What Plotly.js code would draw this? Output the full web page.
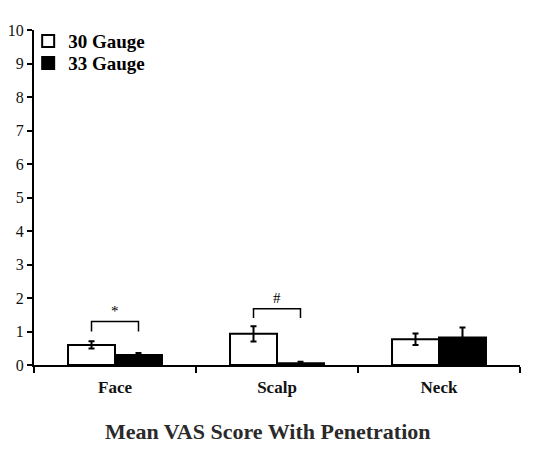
<!DOCTYPE html>
<html>
<head>
<meta charset="utf-8">
<script src="https://cdn.plot.ly/plotly-3.0.1.min.js"></script>
<style>html,body{margin:0;padding:0;background:#fff;}#chart{width:552px;height:468px;}</style>
</head>
<body>
<div id="chart"></div>
<script>
// Data
var categories = ["Face", "Scalp", "Neck"];
var gauge30 = [0.60, 0.93, 0.77];
var gauge30Err = [0.11, 0.23, 0.17];
var gauge33 = [0.30, 0.05, 0.82];
var gauge33Err = [0.06, 0.05, 0.30];
var sigLabels = ["*", "#", ""];
var bracketTop = [1.30, 1.68, null];
var bracketLeg = [1.00, 1.40, null];
var seriesNames = ["30 Gauge", "33 Gauge"];
var yTicks = [0, 1, 2, 3, 4, 5, 6, 7, 8, 9, 10];

var serif = "Liberation Serif, Times New Roman, serif";
var bargap = 0.42;
var half = (1 - bargap) / 4; // offset of each bar center from category center

var traces = [
  {
    type: "bar", name: seriesNames[0], x: categories, y: gauge30, legend: "legend",
    marker: {color: "#ffffff", line: {color: "#000000", width: 2}},
    error_y: {type: "data", array: gauge30Err, visible: true, color: "#000000", thickness: 2, width: 3}
  },
  {
    type: "bar", name: seriesNames[1], x: categories, y: gauge33, legend: "legend2",
    marker: {color: "#000000", line: {color: "#000000", width: 2}},
    error_y: {type: "data", array: gauge33Err, visible: true, color: "#000000", thickness: 2, width: 3}
  }
];

var shapes = [];
var annotations = [];
categories.forEach(function (c, i) {
  if (bracketTop[i] === null) return;
  var x0 = i - half, x1 = i + half;
  shapes.push({type: "path", xref: "x", yref: "y",
    path: "M" + x0 + "," + bracketLeg[i] + " L" + x0 + "," + bracketTop[i] + " L" + x1 + "," + bracketTop[i] + " L" + x1 + "," + bracketLeg[i],
    line: {color: "#000000", width: 1.5}});
  annotations.push({xref: "x", yref: "y", x: i, y: bracketTop[i] + 0.02, text: sigLabels[i],
    showarrow: false, yanchor: "bottom", font: {family: serif, size: 15, color: "#000000"}});
});

var legendFont = {family: serif, size: 19, color: "#000", weight: "bold"};
var layout = {
  width: 552, height: 468,
  margin: {l: 34, r: 32, t: 30, b: 103},
  paper_bgcolor: "#ffffff", plot_bgcolor: "#ffffff",
  barmode: "group", bargap: bargap, bargroupgap: 0,
  showlegend: true,
  legend: {x: -0.012, y: 0.967, xanchor: "left", yanchor: "middle", bgcolor: "rgba(0,0,0,0)",
    font: legendFont},
  legend2: {x: -0.012, y: 0.901, xanchor: "left", yanchor: "middle", bgcolor: "rgba(0,0,0,0)",
    font: legendFont},
  title: {text: "Mean VAS Score With Penetration", x: 0.485, xanchor: "center",
    y: 0.079, yref: "container", yanchor: "middle",
    font: {family: serif, size: 22, color: "#2a2a2a", weight: "bold"}},
  xaxis: {type: "category", range: [-0.5, 2.5], showline: true, linecolor: "#000", linewidth: 2,
    ticks: "outside", tickson: "boundaries", ticklen: 6, tickwidth: 2, tickcolor: "#000",
    showgrid: false, zeroline: false, ticklabelstandoff: 6,
    tickfont: {family: serif, size: 17, color: "#111", weight: "bold"}},
  yaxis: {range: [0, 10], tickvals: yTicks, showline: true, linecolor: "#000", linewidth: 2,
    ticks: "outside", ticklen: 5, tickwidth: 2, tickcolor: "#000",
    showgrid: false, zeroline: false,
    tickfont: {family: serif, size: 16, color: "#111"}},
  shapes: shapes,
  annotations: annotations
};

Plotly.newPlot("chart", traces, layout, {displayModeBar: false, staticPlot: true});
</script>
</body>
</html>
